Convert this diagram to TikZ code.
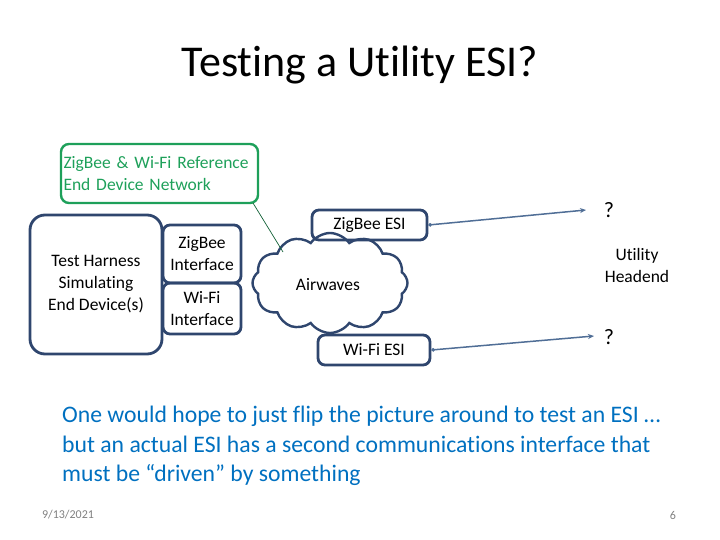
\documentclass[tikz,border=0pt]{standalone}
\usepackage{fontspec}
\setmainfont[Ligatures=NoCommon]{Carlito}
\usetikzlibrary{shapes.symbols,arrows.meta}
\definecolor{navy}{RGB}{47,70,110}
\definecolor{grn}{RGB}{30,160,90}
\definecolor{lnk}{RGB}{80,110,150}
\definecolor{body}{RGB}{0,112,192}
\tikzset{
  dbox/.style={draw=navy,line width=2.8pt,rounded corners=7pt,align=center,font=\fontsize{17.5}{22}\selectfont},
  conn/.style={draw=lnk,line width=1.5pt},
  lbl/.style={align=center,font=\fontsize{17.5}{22}\selectfont},
}
\begin{document}
\begin{tikzpicture}[x=1pt,y=-1pt]
\useasboundingbox (0,0) rectangle (720,540);
\node (title) at (360,65) {\fontsize{44}{50}\selectfont Testing a Utility ESI?};
\node[draw=grn,line width=2.4pt,rounded corners=8pt,minimum width=197pt,minimum height=59pt,text width=192pt,align=left,text=grn,font=\fontsize{17.5}{22}\selectfont,inner sep=2pt] (ref) at (159.5,173.5) {ZigBee \& Wi-Fi Reference\\End Device Network};
\node[dbox,rounded corners=15pt,minimum width=132pt,minimum height=139pt] (th) at (96,284.5) {Test Harness\\Simulating\\End Device(s)};
\node[dbox,minimum width=78pt,minimum height=58pt,inner sep=0pt] (zi) at (202,254) {ZigBee\\Interface};
\node[dbox,minimum width=78pt,minimum height=51pt,inner sep=0pt] (wi) at (202,308.5) {Wi-Fi\\Interface};
\node[cloud,draw=navy,line width=2.4pt,cloud puffs=12,cloud puff arc=110,aspect=1.5,minimum width=155pt,minimum height=100pt,inner sep=0pt] (cl) at (330,283) {};
\node[lbl] (air) at (328,285) {Airwaves};
\node[dbox,minimum width=115pt,minimum height=30pt] (ze) at (369.5,225) {ZigBee ESI};
\node[dbox,minimum width=112pt,minimum height=30pt] (we) at (374,350) {Wi-Fi ESI};
\node[font=\fontsize{22}{24}\selectfont] (q1) at (609,210) {?};
\node[font=\fontsize{22}{24}\selectfont] (q2) at (609,337) {?};
\node[lbl] (ue) at (637,265) {Utility\\Headend};
\coordinate (c1) at (586,210);
\coordinate (c2) at (594,336);
\coordinate (r1) at (253,203);
\coordinate (r2) at (283,252);
\draw[grn!60!black,line width=0.7pt] (r1) -- (r2);
\draw[conn,{Circle[length=3.5pt]}-{Stealth[length=6pt,width=5pt]}] (ze.east) -- (c1);
\draw[conn,{Circle[length=3.5pt]}-{Stealth[length=6pt,width=5pt]}] (we.east) -- (c2);
\node[text=body,anchor=north west,align=left,font=\fontsize{23.7}{29.5}\selectfont,inner sep=0pt] (bt) at (62,406) {One would hope to just flip the picture around to test an ESI \dots\\but an actual ESI has a second communications interface that\\must be “driven” by something};
\node[text=gray,font=\fontsize{12}{13}\selectfont] (dt) at (68,515) {9/13/2021};
\node[text=gray,font=\fontsize{12}{13}\selectfont] (pg) at (673,515) {6};
\end{tikzpicture}
\end{document}
